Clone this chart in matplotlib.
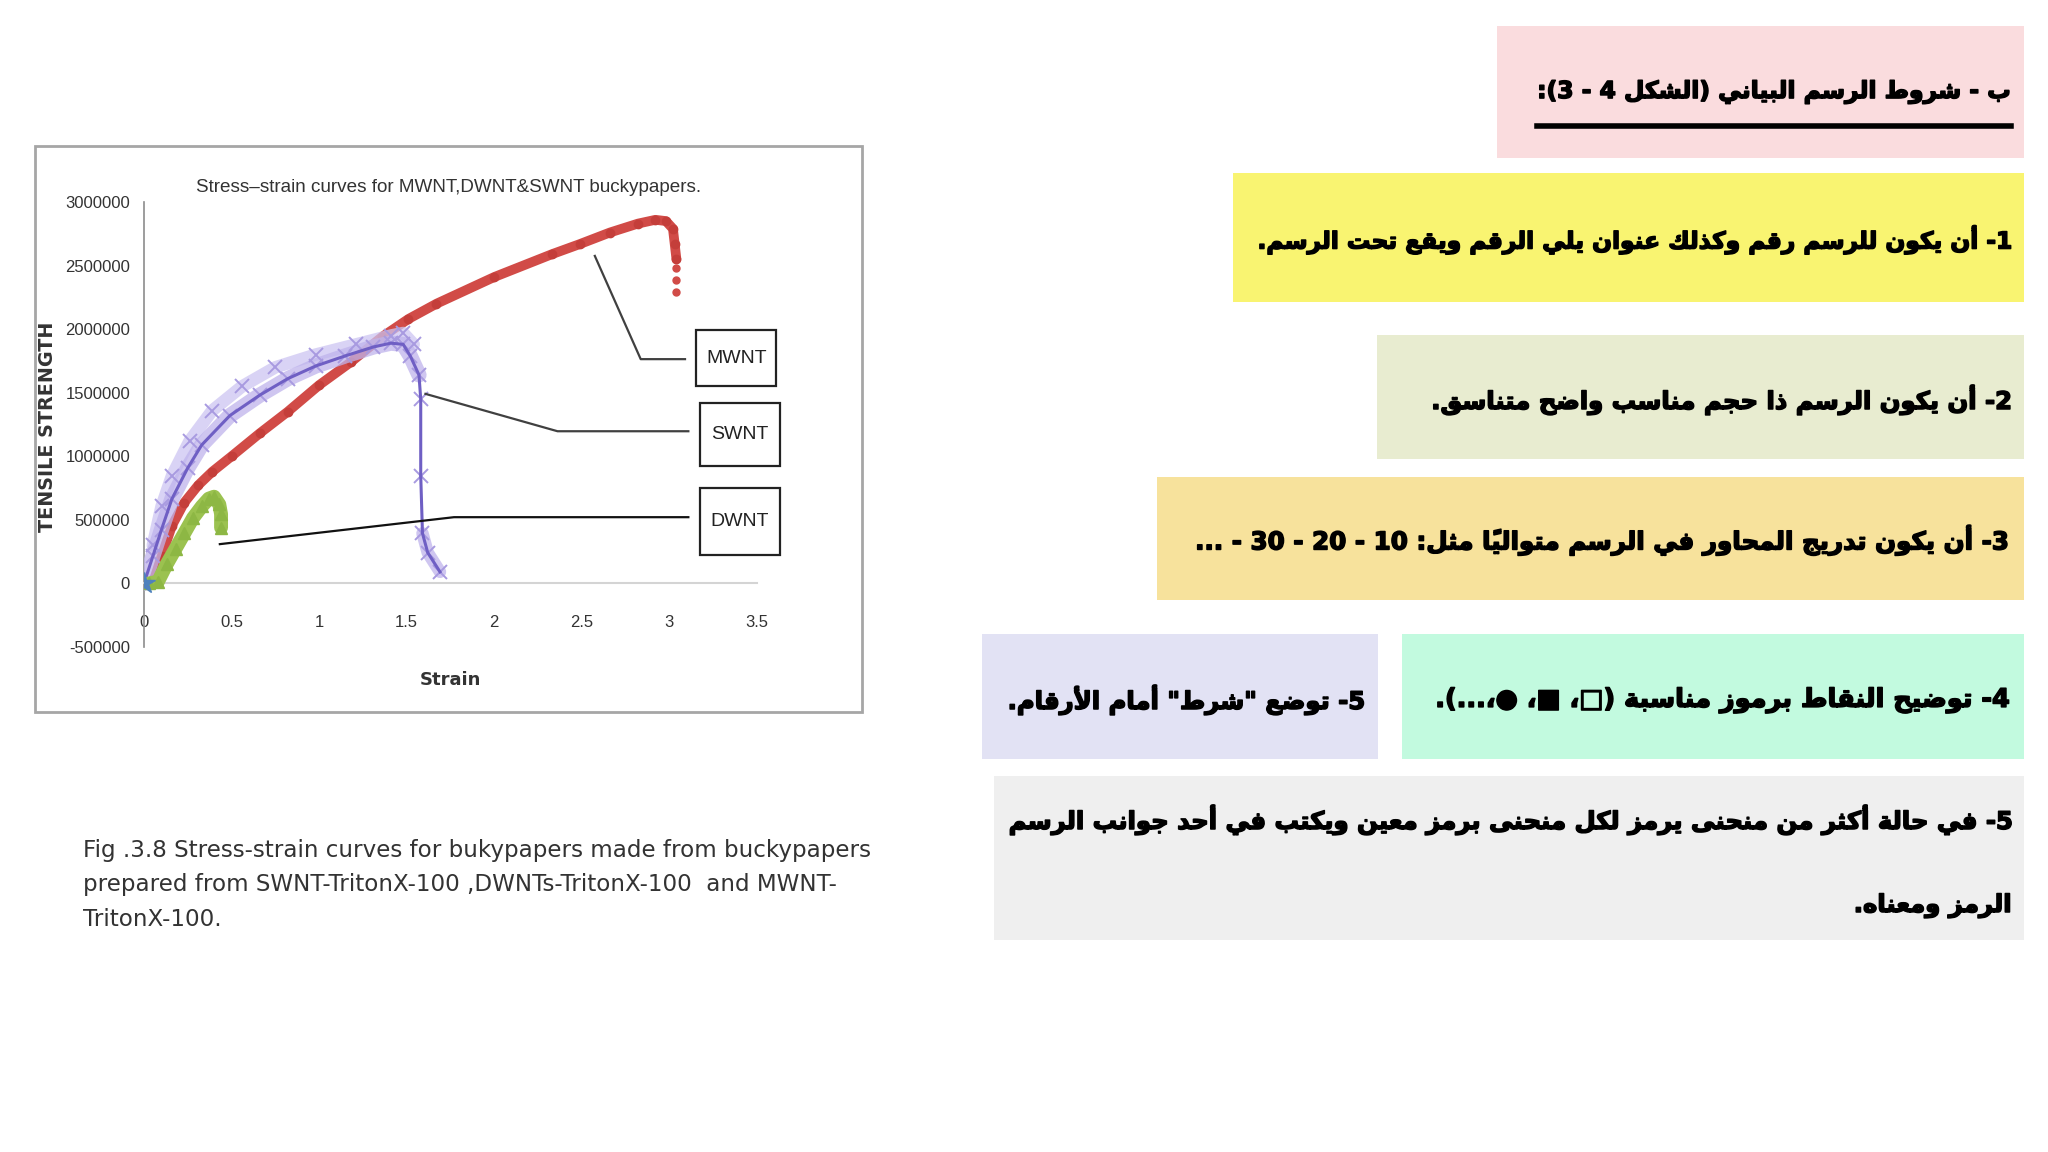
import re
import numpy as np
import matplotlib
matplotlib.use('Agg')
import matplotlib.pyplot as plt
from matplotlib import font_manager
from matplotlib.patches import Rectangle
from matplotlib.ft2font import FT2Font
import matplotlib.patheffects as pe

# ---------------- datos de la curva ----------------
mwnt_strain = [0.05, 0.10, 0.16, 0.23, 0.31, 0.39, 0.50, 0.66, 0.82, 1.00, 1.18, 1.36,
               1.51, 1.67, 2.00, 2.33, 2.49, 2.66, 2.82, 2.92, 2.98, 3.02, 3.03, 3.04]
mwnt_stress = [0, 212000, 455000, 636000, 773000, 879000, 1000000, 1180000, 1350000,
               1560000, 1740000, 1940000, 2080000, 2200000, 2410000, 2590000, 2670000,
               2760000, 2830000, 2860000, 2850000, 2790000, 2670000, 2550000]
# últimos puntos aislados tras la rotura
mwnt_tail_strain = [3.04, 3.04, 3.04]
mwnt_tail_stress = [2480000, 2390000, 2290000]

swnt_strain = [0, 0.05, 0.10, 0.16, 0.25, 0.33, 0.49, 0.66, 0.82, 0.98, 1.15, 1.31, 1.41,
               1.48, 1.52, 1.57, 1.58, 1.58, 1.59, 1.62, 1.69]
swnt_stress = [0, 212000, 424000, 667000, 909000, 1090000, 1320000, 1480000, 1610000,
               1710000, 1790000, 1860000, 1890000, 1880000, 1790000, 1640000, 1450000,
               848000, 394000, 242000, 91000]

# borde superior de la nube de marcadores SWNT
swnt_band_strain = [0.05, 0.10, 0.16, 0.26, 0.39, 0.56, 0.75, 0.98, 1.21, 1.41, 1.48, 1.54]
swnt_band_stress = [300000, 606000, 848000, 1120000, 1360000, 1550000, 1700000, 1800000,
                    1880000, 1950000, 1970000, 1880000]

dwnt_strain = [0.03, 0.08, 0.13, 0.18, 0.23, 0.28, 0.33, 0.37, 0.40, 0.43, 0.44, 0.44]
dwnt_stress = [0, 15000, 152000, 273000, 394000, 515000, 606000, 667000, 682000, 621000,
               545000, 439000]

x_ticks = [0, 0.5, 1, 1.5, 2, 2.5, 3, 3.5]
x_tick_labels = ['0', '0.5', '1', '1.5', '2', '2.5', '3', '3.5']
y_ticks = [-500000, 0, 500000, 1000000, 1500000, 2000000, 2500000, 3000000]
y_tick_labels = ['-500000', '0', '500000', '1000000', '1500000', '2000000', '2500000', '3000000']

# etiquetas: nombre, líneas guía (x, y), caja
label_names = ['MWNT', 'SWNT', 'DWNT']
leader_x = [[2.574, 2.836, 3.089], [1.607, 2.361, 3.108], [0.433, 1.770, 3.108]]
leader_y = [[2576000, 1764000, 1764000], [1491000, 1197000, 1197000], [309000, 521000, 521000]]
box_x0 = [3.154, 3.174, 3.174]
box_x1 = [3.610, 3.633, 3.633]
box_y0 = [1552000, 924000, 227000]
box_y1 = [1994000, 1418000, 752000]

chart_title = 'Stress\u2013strain curves for MWNT,DWNT&SWNT buckypapers.'
caption_lines = ['Fig .3.8 Stress-strain curves for bukypapers made from buckypapers',
                 'prepared from SWNT-TritonX-100 ,DWNTs-TritonX-100  and MWNT-',
                 'TritonX-100.']

# textos árabes
ar_title = 'ب - شروط الرسم البياني (الشكل 4 - 3):'
ar_items = ['1- أن يكون للرسم رقم وكذلك عنوان يلي الرقم ويقع تحت الرسم.',
            '2- أن يكون الرسم ذا حجم مناسب واضح متناسق.',
            '3- أن يكون تدريج المحاور في الرسم متوالياً مثل: 10 - 20 - 30 - ...',
            '4- توضيح النقاط برموز مناسبة (□، ■، ●،...).',
            '5- توضع "شرط" أمام الأرقام.',
            '5- في حالة أكثر من منحنى يرمز لكل منحنى برمز معين ويكتب في أحد جوانب الرسم',
            'الرمز ومعناه.']

# ---------------- conformado árabe (formas de presentación) ----------------
AR_FORMS = {
    0x0621: (0xFE80, 1), 0x0622: (0xFE81, 2), 0x0623: (0xFE83, 2), 0x0624: (0xFE85, 2),
    0x0625: (0xFE87, 2), 0x0626: (0xFE89, 4), 0x0627: (0xFE8D, 2), 0x0628: (0xFE8F, 4),
    0x0629: (0xFE93, 2), 0x062A: (0xFE95, 4), 0x062B: (0xFE99, 4), 0x062C: (0xFE9D, 4),
    0x062D: (0xFEA1, 4), 0x062E: (0xFEA5, 4), 0x062F: (0xFEA9, 2), 0x0630: (0xFEAB, 2),
    0x0631: (0xFEAD, 2), 0x0632: (0xFEAF, 2), 0x0633: (0xFEB1, 4), 0x0634: (0xFEB5, 4),
    0x0635: (0xFEB9, 4), 0x0636: (0xFEBD, 4), 0x0637: (0xFEC1, 4), 0x0638: (0xFEC5, 4),
    0x0639: (0xFEC9, 4), 0x063A: (0xFECD, 4), 0x0641: (0xFED1, 4), 0x0642: (0xFED5, 4),
    0x0643: (0xFED9, 4), 0x0644: (0xFEDD, 4), 0x0645: (0xFEE1, 4), 0x0646: (0xFEE5, 4),
    0x0647: (0xFEE9, 4), 0x0648: (0xFEED, 2), 0x0649: (0xFEEF, 2), 0x064A: (0xFEF1, 4),
}
LAM_ALEF = {0x0622: 0xFEF5, 0x0623: 0xFEF7, 0x0625: 0xFEF9, 0x0627: 0xFEFB}
MARKS = set(range(0x064B, 0x0653))
MIRROR = {'(': ')', ')': '('}


def joins(c):
    return c == '\u0640' or (ord(c) in AR_FORMS and AR_FORMS[ord(c)][1] > 1)


def dual(c):
    return c == '\u0640' or (ord(c) in AR_FORMS and AR_FORMS[ord(c)][1] == 4)


def shape(text):
    ch = list(text)
    n = len(ch)
    out = []
    i = 0
    while i < n:
        c = ch[i]
        o = ord(c)
        if o not in AR_FORMS:
            out.append(c)
            i += 1
            continue
        p = i - 1
        while p >= 0 and ord(ch[p]) in MARKS:
            p -= 1
        j = i + 1
        while j < n and ord(ch[j]) in MARKS:
            j += 1
        link_prev = p >= 0 and dual(ch[p]) and joins(c)
        if o == 0x0644 and j < n and ord(ch[j]) in LAM_ALEF:
            out.append(chr(LAM_ALEF[ord(ch[j])] + (1 if link_prev else 0)))
            out.extend(ch[i + 1:j])
            i = j + 1
            continue
        link_next = dual(c) and j < n and joins(ch[j])
        base, nf = AR_FORMS[o]
        if nf == 1:
            form = base
        elif nf == 2:
            form = base + (1 if link_prev else 0)
        elif link_prev and link_next:
            form = base + 3
        elif link_prev:
            form = base + 1
        elif link_next:
            form = base + 2
        else:
            form = base
        out.append(chr(form))
        i += 1
    return ''.join(out)


def rtl(text):
    tokens = re.findall(r'[0-9]+|.[\u064B-\u0652]*', shape(text), flags=re.S)
    return ''.join(MIRROR.get(tk, tk) for tk in reversed(tokens))


# ---------------- fuentes ----------------
names = {f.name for f in font_manager.fontManager.ttflist}
NARROW = 'Liberation Sans Narrow' in names
chart_font = 'Liberation Sans Narrow' if NARROW else 'Liberation Sans'


def has_glyph(weight, code):
    path = font_manager.findfont(font_manager.FontProperties(family='DejaVu Sans', weight=weight))
    return code in FT2Font(path).get_charmap()


if has_glyph('bold', 0xFEDF):
    ar_kw = dict(family='DejaVu Sans', weight='bold',
                 path_effects=[pe.withStroke(linewidth=1.1, foreground='black')])
else:
    ar_kw = dict(family='DejaVu Sans', weight='normal',
                 path_effects=[pe.withStroke(linewidth=2.0, foreground='black')])

# ---------------- figura ----------------
W, H = 2048, 1152
fig = plt.figure(figsize=(W / 100, H / 100), dpi=100)
fig.patch.set_facecolor('white')


def fx(px):
    return px / W


def fy(py):
    return 1 - py / H


renderer = fig.canvas.get_renderer()


def fit(t, target_w):
    w = t.get_window_extent(renderer).width
    t.set_fontsize(t.get_fontsize() * target_w / w)


# marco del gráfico (detrás de los ejes)
fig.add_artist(Rectangle((fx(35), fy(712)), fx(862) - fx(35), fy(146) - fy(712),
                         transform=fig.transFigure, facecolor='white',
                         edgecolor='#a6a6a6', lw=2, zorder=-5))

ax = fig.add_axes([fx(144), fy(647), fx(757) - fx(144), fy(202) - fy(647)])
ax.set_facecolor('none')
ax.set_xlim(0, 3.5)
ax.set_ylim(-500000, 3000000)
ax.set_xticks(x_ticks)
ax.set_xticklabels(x_tick_labels)
ax.set_yticks(y_ticks)
ax.set_yticklabels(y_tick_labels)
ax.spines['bottom'].set_position(('data', 0))
ax.spines['top'].set_visible(False)
ax.spines['right'].set_visible(False)
ax.spines['bottom'].set_color('#d4d4d4')
ax.spines['bottom'].set_linewidth(1.5)
ax.spines['left'].set_color('#8c8c8c')
ax.spines['left'].set_linewidth(1.2)
tick_size = 14 if NARROW else 12
ax.tick_params(length=0, labelsize=tick_size, labelcolor='#333333')
ax.tick_params(axis='x', pad=23)
ax.tick_params(axis='y', pad=10)
for lab in ax.get_xticklabels() + ax.get_yticklabels():
    lab.set_family(chart_font)

# MWNT (rojo, círculos densos)
ax.plot(mwnt_strain, mwnt_stress, color='#d14b47', lw=7, solid_capstyle='round', zorder=3)
ax.plot(mwnt_strain, mwnt_stress, 'o', color='#c43e3a', ms=6, zorder=3)
ax.plot(mwnt_tail_strain, mwnt_tail_stress, 'o', color='#d14b47', ms=5, zorder=3)

# SWNT (lila, cruces + línea); la nube no cubre la caída vertical
n_band = 16
ax.plot(swnt_band_strain, swnt_band_stress, color='#cdc5f2', lw=9, alpha=0.75,
        solid_capstyle='round', zorder=4)
ax.plot(swnt_strain[:n_band], swnt_stress[:n_band], color='#bfb4ec', lw=11, alpha=0.75,
        solid_capstyle='round', zorder=4)
ax.plot(swnt_strain[-3:], swnt_stress[-3:], color='#bfb4ec', lw=9, alpha=0.75,
        solid_capstyle='round', zorder=4)
ax.plot(swnt_strain, swnt_stress, 'x', color='#a89ae0', ms=10, mew=1.4, zorder=4)
ax.plot(swnt_band_strain, swnt_band_stress, 'x', color='#a89ae0', ms=10, mew=1.4, zorder=4)
ax.plot(swnt_strain, swnt_stress, color='#6f5fc4', lw=2.2, zorder=5)

# DWNT (verde, triángulos)
ax.plot(dwnt_strain, dwnt_stress, color='#9bc250', lw=10, solid_capstyle='round', zorder=6)
ax.plot(dwnt_strain, dwnt_stress, '^', color='#8db744', ms=9, zorder=6)

# serie azul en el origen
ax.plot([0], [0], '*', color='#4f81bd', ms=16, zorder=7)

# líneas guía y cajas
leader_colors = ['#404040', '#404040', '#111111']
for k, name in enumerate(label_names):
    ax.plot(leader_x[k], leader_y[k], color=leader_colors[k], lw=1.6, clip_on=False, zorder=8)
    ax.add_patch(Rectangle((box_x0[k], box_y0[k]), box_x1[k] - box_x0[k], box_y1[k] - box_y0[k],
                           facecolor='white', edgecolor='#222222', lw=1.6, clip_on=False, zorder=8))
    ax.text((box_x0[k] + box_x1[k]) / 2, (box_y0[k] + box_y1[k]) / 2, name,
            ha='center', va='center', family=chart_font, fontsize=tick_size + 2,
            color='#222222', zorder=9)

# títulos del gráfico
t = fig.text(fx(449), fy(188), chart_title, ha='center', va='center',
             family=chart_font, fontsize=16, color='#333333')
fit(t, 508)
t = fig.text(fx(48), fy(427), 'TENSILE STRENGTH', ha='center', va='center', rotation=90,
             family='DejaVu Sans', weight='bold', fontsize=12, color='#333333')
t.set_fontsize(12 * 210 / t.get_window_extent(renderer).height)
fig.text(fx(450), fy(680), 'Strain', ha='center', va='center',
         family='DejaVu Sans', weight='bold', fontsize=13, color='#333333')

# pie de figura
cap_y = [851, 885, 919]
t0 = fig.text(fx(83), fy(cap_y[0]), caption_lines[0], ha='left', va='center',
              family='DejaVu Sans', fontsize=15, color='#333333')
fit(t0, 790)
for line, yy in zip(caption_lines[1:], cap_y[1:]):
    fig.text(fx(83), fy(yy), line, ha='left', va='center',
             family='DejaVu Sans', fontsize=t0.get_fontsize(), color='#333333')

# cajas de color (x0, y0, x1, y1 en píxeles)
boxes = [((1497, 26, 2024, 158), '#fadcde'),
         ((1233, 173, 2024, 302), '#f9f471'),
         ((1377, 335, 2024, 459), '#e8ecd0'),
         ((1157, 477, 2024, 600), '#f7e29c'),
         ((1402, 634, 2024, 759), '#c2fadf'),
         ((982, 634, 1378, 759), '#e2e2f4'),
         ((994, 776, 2024, 940), '#efefef')]
for (x0, y0, x1, y1), col in boxes:
    fig.add_artist(Rectangle((fx(x0), fy(y1)), fx(x1) - fx(x0), fy(y0) - fy(y1),
                             transform=fig.transFigure, facecolor=col, edgecolor='none',
                             zorder=-5))

# textos árabes
title = fig.text(fx(2011), fy(92), rtl(ar_title), ha='right', va='center',
                 fontsize=30, color='black', **ar_kw)
fit(title, 473)
bb = title.get_window_extent(renderer)
fig.add_artist(plt.Line2D([bb.x0 / W, bb.x1 / W], [fy(126), fy(126)],
                          transform=fig.transFigure, color='black', lw=4))

# (x derecha, y centro, ancho) en píxeles
item_pos = [(2011, 240, 754), (2011, 400, 580), (2011, 540, 813), (2011, 700, 574),
            (1365, 700, 357), (2011, 820, 1003)]
for txt, (xr, yc, wt) in zip(ar_items[:6], item_pos):
    t = fig.text(fx(xr), fy(yc), rtl(txt), ha='right', va='center',
                 fontsize=30, color='black', **ar_kw)
    fit(t, wt)
    last_size = t.get_fontsize()
fig.text(fx(2011), fy(906), rtl(ar_items[6]), ha='right', va='center',
         fontsize=last_size, color='black', **ar_kw)

fig.savefig('out.png', dpi=100)
